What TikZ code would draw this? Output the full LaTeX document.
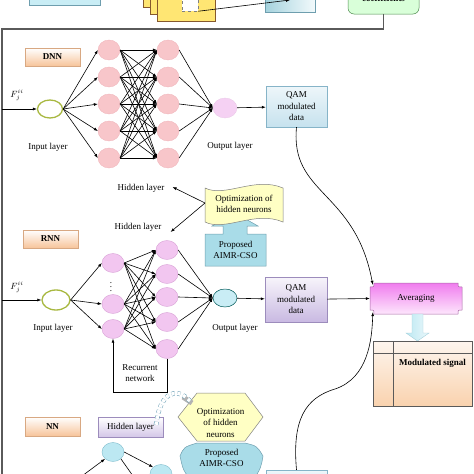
\documentclass[tikz,border=0pt]{standalone}
\usepackage{fontspec}
\setmainfont{Liberation Serif}
\usetikzlibrary{arrows.meta,shapes.geometric,shadows}
\definecolor{pinkn}{HTML}{F8C6CA}
\definecolor{pinkd}{HTML}{EEB0B6}
\definecolor{violn}{HTML}{F2C6F0}
\definecolor{viold}{HTML}{D8A2D6}
\definecolor{cyann}{HTML}{BCE8F2}
\definecolor{cyand}{HTML}{7FBCCC}
\definecolor{inring}{HTML}{A8B840}
\definecolor{frame}{HTML}{5A5A5A}
\definecolor{peachb}{HTML}{F7C49A}
\definecolor{peachd}{HTML}{D8A882}
\definecolor{qamblue}{HTML}{C6E2EE}
\definecolor{qambd}{HTML}{86B4C8}
\definecolor{lav}{HTML}{C9B9E2}
\definecolor{lavd}{HTML}{9C8CBC}
\definecolor{yel}{HTML}{FFFFC4}
\definecolor{aimr}{HTML}{A9DCE8}
\definecolor{aimrd}{HTML}{6E9EAE}
\definecolor{mag}{HTML}{F07CEE}
\definecolor{magl}{HTML}{FDE6FC}
\definecolor{magd}{HTML}{A86AA6}
\definecolor{modp}{HTML}{F9D2AE}
\definecolor{dashc}{HTML}{5F97B0}
\begin{document}
\begin{tikzpicture}[x=1pt,y=-1pt,
  every node/.style={font=\fontsize{9}{11.5}\selectfont, inner sep=0pt},
  arr/.style={-{Latex[length=4pt,width=3pt]}, line width=0.6pt, black},
  dnn/.style={ellipse, minimum width=22pt, minimum height=20pt, fill=pinkn, draw=pinkd, line width=0.3pt},
  rnn/.style={ellipse, minimum width=22pt, minimum height=19pt, fill=violn, draw=viold, line width=0.4pt},
  nnn/.style={ellipse, minimum width=22pt, minimum height=19pt, fill=cyann, draw=cyand, line width=0.4pt},
  inp/.style={ellipse, draw=inring, line width=1.3pt, fill=white},
  lbl/.style={rectangle, minimum width=55pt, minimum height=18pt, top color=white, bottom color=peachb, draw=peachd, line width=0.4pt, font=\fontsize{9}{11}\selectfont\bfseries, drop shadow={shadow xshift=1.2pt, shadow yshift=-1.2pt, opacity=0.35}},
  qamb/.style={rectangle, minimum width=61pt, minimum height=41pt, align=center, draw=qambd, line width=0.4pt, top color=white!70!qamblue, bottom color=qamblue, drop shadow={shadow xshift=1pt, shadow yshift=-1pt, opacity=0.3}},
  qaml/.style={rectangle, minimum width=62pt, minimum height=45pt, align=center, draw=lavd, line width=0.4pt, top color=white!85!lav, bottom color=lav, drop shadow={shadow xshift=1pt, shadow yshift=-1pt, opacity=0.3}},
  txt/.style={align=center}
]
\useasboundingbox (0,0) rectangle (474,474);
\clip (0,0) rectangle (474,474);

% ---------------- top strip ----------------
\draw[draw=aimrd, fill=cyann!80!white, line width=0.5pt] (29,-12) rectangle (100,5);
\draw[draw=brown!70!black, fill=orange!35!yellow!55, line width=0.5pt] (143,-40) rectangle (201,7);
\draw[draw=brown!70!black, fill=orange!35!yellow!55, line width=0.5pt] (150,-40) rectangle (208,14);
\draw[draw=brown!70!black, fill=orange!35!yellow!55, line width=0.5pt] (157,-40) rectangle (215,21);
\node[draw=gray, dashed, fill=white, minimum width=16pt, minimum height=16pt, line width=0.5pt] (dsq) at (190,3) {};
\node[draw=aimrd, left color=aimr!90!gray, right color=white!85!aimr, minimum width=50pt, minimum height=30pt, line width=0.4pt] (bbox) at (290,-3) {};
\coordinate (atip) at (290,0);
\draw[arr] (dsq.south east) -- (atip);
\node[draw=green!35!black!70, fill=green!15!white, rounded corners=6pt, minimum width=71pt, minimum height=40pt, line width=0.5pt] (coef) at (383.5,-6) {};
\node[anchor=base, font=\fontsize{9}{11}\selectfont\bfseries] (coeft) at (383.5,1.5) {coefficients};
\coordinate (corner) at (2,29);
\coordinate (bl) at (2,480);
\draw[frame, line width=1.2pt] (coef.south) |- (corner) -- (bl);

% ---------------- DNN ----------------
\node[lbl] (dnnl) at (52.5,57) {DNN};
\node at (17,95) {$F_j^{ii}$};
\node[inp, minimum width=25pt, minimum height=18pt] (din) at (50,109) {};
\coordinate (dsrc) at (2,109);
\draw[arr] (dsrc) -- (din);
\foreach \i/\y in {1/50,2/77,3/104,4/131,5/158}{
  \node[dnn] (da\i) at (109,\y) {};
  \node[dnn] (db\i) at (168,\y) {};
}
\node[ellipse, minimum width=24pt, minimum height=20pt, fill=violn!80!white, draw=viold!60, line width=0.3pt] (dout) at (225,108) {};
\foreach \i in {1,...,5}{
  \draw[arr] (din.east) -- (da\i.west);
  \draw[arr] (db\i.east) -- (dout.west);
  \foreach \j in {1,...,5}{ \draw[arr] (da\i.east) -- (db\j.west); }
}
\node[qamb] (dqam) at (296.5,106.5) {QAM\\modulated\\data};
\draw[arr] (dout) -- (dqam);
\node (dinl) at (48,147) {Input layer};
\node (doutl) at (230,146) {Output layer};

% ---------------- optimisation (DNN/RNN) ----------------
\node (hl1) at (141,188) {Hidden layer};
\node (hl2) at (138,227) {Hidden layer};
\draw[draw=aimrd, fill=aimr, line width=0.5pt] (205,266) -- (205,234) -- (223,234) -- (223,226) -- (212,226) -- (235,213) -- (258,226) -- (247,226) -- (247,234) -- (266,234) -- (266,266) -- cycle;
\node[txt] (aimr1) at (235.5,250) {Proposed\\AIMR-CSO};
\draw[draw=gray, fill=yel, line width=0.5pt] (205,188) .. controls (225,198) and (255,176) .. (283,188) -- (283,222) .. controls (255,210) and (225,232) .. (205,222) -- cycle;
\node[txt] (opt1) at (244,204) {Optimization of\\hidden neurons};
\coordinate (optl) at (205,203);
\draw[arr] (optl) -- ([xshift=8pt,yshift=1pt]hl1.east);
\draw[arr] (optl) -- ([xshift=9pt,yshift=-5pt]hl2.east);

% ---------------- RNN ----------------
\node[lbl] (rnnl) at (50.5,239) {RNN};
\node at (17,287) {$F_j^{ii}$};
\node[inp, minimum width=28pt, minimum height=20pt] (rin) at (56,300) {};
\coordinate (rsrc) at (2,300);
\draw[arr] (rsrc) -- (rin);
\node[rnn] (ra1) at (113,263) {};
\node[rnn] (ra2) at (113,304) {};
\node[rnn] (ra3) at (113,329) {};
\node (rdots) at (111,284) {$\vdots$};
\foreach \i/\y in {1/250,2/274,3/297,4/322,5/349}{ \node[rnn] (rb\i) at (167,\y) {}; }
\node[ellipse, minimum width=24pt, minimum height=18pt, fill=cyann!80!white, draw=teal!70!black, line width=0.5pt] (rout) at (225,298) {};
\foreach \i in {1,2,3}{
  \draw[arr] (rin.east) -- (ra\i.west);
  \foreach \j in {1,...,5}{ \draw[arr] (ra\i.east) -- (rb\j.west); }
}
\foreach \j in {1,...,5}{ \draw[arr] (rb\j.east) -- (rout.west); }
\coordinate (lpr) at (167,392);
\coordinate (lpl) at (113,392);
\draw[arr] (rb5.south) -- (lpr) -- (lpl) -- (ra3.south);
\node[txt] (recn) at (140,373) {Recurrent\\network};
\node (rinl) at (53,328) {Input layer};
\node (routl) at (235,328) {Output layer};
\node[qaml] (rqam) at (296,299.5) {QAM\\modulated\\data};
\draw[arr] (rout) -- (rqam);

% ---------------- Averaging & output ----------------
\draw[draw=magd, top color=mag, bottom color=magl, line width=0.5pt]
  (374,283) -- (458,283) .. controls (458,287) .. (462,287) -- (462,310) .. controls (458,310) .. (458,314)
  -- (374,314) .. controls (374,310) .. (370,310) -- (370,287) .. controls (374,287) .. (374,283) -- cycle;
\node[minimum width=92pt, minimum height=31pt] (avg) at (416,298.5) {Averaging};
\draw[arr] (rqam) -- (avg.west);
\draw[arr] (dqam.south) .. controls (290,195) and (355,190) .. ([xshift=3pt,yshift=-2pt]avg.north west);
\draw[draw=cyand!70, left color=cyann, right color=white!70!cyann, line width=0.4pt]
  (412,314) -- (423,314) -- (423,333) -- (429,333) -- (417.5,341) -- (406,333) -- (412,333) -- cycle;
\draw[draw=frame, line width=0.6pt, top color=white!80!modp, bottom color=modp] (373,341) rectangle (472,406);
\draw[frame, line width=0.6pt] (393,341) -- (393,406) (373,353) -- (472,353);
\node[font=\fontsize{9}{11}\selectfont\bfseries] (mods) at (432.5,363) {Modulated signal};

% ---------------- NN ----------------
\node[lbl, minimum height=19pt] (nnl) at (52.5,426.5) {NN};
\node[rectangle, minimum width=65pt, minimum height=20pt, top color=white, bottom color=lav!80, draw=lavd, line width=0.4pt, drop shadow={shadow xshift=1pt, shadow yshift=-1pt, opacity=0.3}] (hlb) at (130.5,427) {Hidden layer};
\draw[draw=gray, fill=yel, line width=0.5pt] (197,393) -- (245,393) -- (263,417) -- (245,441) -- (197,441) -- (178,417) -- cycle;
\node[txt] (opt2) at (220.5,423) {Optimization\\of hidden\\neurons};
\draw[draw=aimrd, fill=aimr, line width=0.5pt] (197,443) -- (245,443) .. controls (257,446) .. (263,456) .. controls (261,468) .. (252,482) -- (192,482) .. controls (183,470) .. (180,456) .. controls (184,447) .. (197,443) -- cycle;
\node[txt] (aimr2) at (221.5,458) {Proposed\\AIMR-CSO};
\coordinate (dstart) at (190,401);
\coordinate (dend) at (156,425);
\draw[gray!60, line width=5pt] (183,397) -- (192,403);
\draw[dashc, dashed, double=white, double distance=3.5pt, line width=0.5pt] (dstart) .. controls (176,386) and (160,392) .. (dend);
\node[nnn] (na1) at (113,452) {};
\node[nnn] (nb1) at (161,474) {};
\coordinate (nsrc) at (82,476);
\coordinate (nout) at (133,476);
\draw[arr] (nsrc) -- (na1.south west);
\draw[arr] (na1.east) -- (nb1.north west);
\draw[line width=0.6pt] (na1.south east) -- (nout);
\node[qamb, minimum height=30pt] (nqam) at (296.5,485) {};
\draw[arr] (nqam.north) .. controls (292,420) and (305,398) .. (335,389) .. controls (368,378) and (372,340) .. ([xshift=3pt,yshift=2pt]avg.south west);
\end{tikzpicture}
\end{document}
